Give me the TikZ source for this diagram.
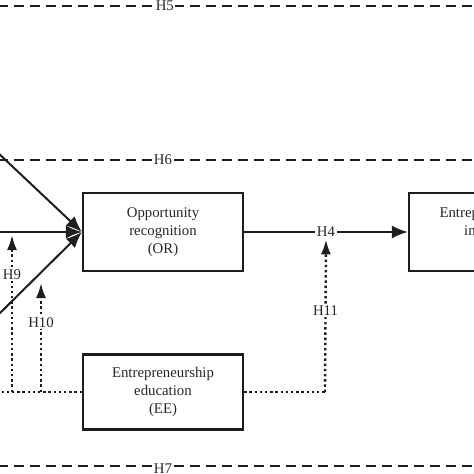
\documentclass[tikz,border=0pt]{standalone}
\usepackage{fontspec}
\setmainfont{Liberation Serif}
\usetikzlibrary{arrows.meta}
\definecolor{linegray}{RGB}{30,30,30}
\definecolor{textgray}{RGB}{40,40,40}
\tikzset{
  varbox/.style={draw=linegray, line width=2.2pt, minimum width=160pt, minimum height=78pt,
    align=center, text=textgray, font=\fontsize{14.8}{18}\selectfont},
  effect/.style={draw=linegray, line width=2pt, -{Latex[length=16pt,width=13pt]}},
  moderator/.style={draw=linegray, line width=2.4pt, dash pattern=on 2.4pt off 2.8pt},
  modarrow/.style={moderator, -{Latex[length=15pt,width=10pt]}},
  control/.style={draw=linegray, line width=2.2pt, dash pattern=on 10pt off 6pt},
  hyplabel/.style={fill=white, inner sep=1.5pt, text=textgray, font=\fontsize{14.8}{18}\selectfont}
}

\begin{document}
\begin{tikzpicture}[x=1pt, y=-1pt]
\clip (0,0) rectangle (474,474);
\fill[white] (0,0) rectangle (474,474);

% constructs
\node[varbox] (OR) at (163,232) {Opportunity\\recognition\\(OR)};
\node[varbox, minimum width=163pt] (EI) at (490.5,232) {Entrepreneurship\\intention\\(EI)};
\node[varbox, minimum height=75pt] (EE) at (163,392) {Entrepreneurship\\education\\(EE)};

% incoming paths from the left
\coordinate (inA) at (-4,151);
\coordinate (inB) at (-4,232);
\coordinate (inC) at (-4,317);
\draw[effect] (inA) -- (OR.west);
\draw[effect] (inB) -- (OR.west);
\draw[effect] (inC) -- (OR.west);

% mediation path
\draw[effect] (OR) -- node[hyplabel] (h4) {H4} (EI);

% moderation by education
\coordinate (eeleft) at (-4,392);
\coordinate (h9foot) at (12,392);
\coordinate (h9tip) at (12,235);
\coordinate (h10foot) at (41,392);
\coordinate (h10tip) at (41,283);
\coordinate (h11foot) at (325,392);
\draw[moderator] (EE.west) -- (eeleft);
\draw[modarrow] (h9foot) -- node[hyplabel, pos=0.75] {H9} (h9tip);
\draw[modarrow] (h10foot) -- node[hyplabel, pos=0.64] {H10} (h10tip);
\draw[moderator] (EE.east) -- (h11foot);
\draw[modarrow] (h11foot) -- node[hyplabel, pos=0.53] {H11} (h4.south);

% control paths
\coordinate (h5l) at (-2,6);
\coordinate (h5r) at (476,6);
\coordinate (h6l) at (-2,160);
\coordinate (h6r) at (476,160);
\coordinate (h7l) at (-2,466);
\coordinate (h7r) at (476,466);
\draw[control] (h5l) -- node[hyplabel, pos=0.349] {H5} (h5r);
\draw[control] (h6l) -- node[hyplabel, pos=0.345] {H6} (h6r);
\draw[control] (h7l) -- node[hyplabel, pos=0.345, yshift=-3pt] {H7} (h7r);
\end{tikzpicture}
\end{document}
